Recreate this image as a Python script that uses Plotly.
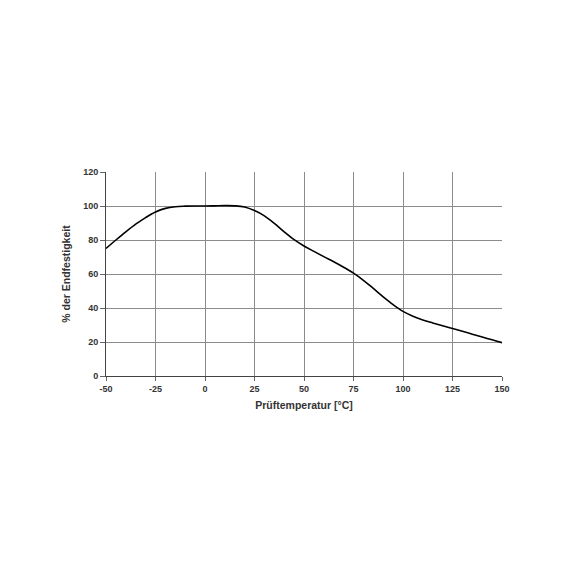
import plotly.graph_objects as go

# Prüftemperatur [°C] vs. % der Endfestigkeit
temp_c = [-50, -45, -40, -35, -30, -25, -20, -15, -10, -5, 0, 5, 10, 15, 20,
          25, 30, 35, 40, 45, 50, 55, 60, 65, 70, 75, 80, 85, 90, 95, 100,
          105, 110, 115, 120, 125, 130, 135, 140, 145, 150]
strength_pct = [75, 80, 84.8, 89.3, 93.2, 96.5, 98.6, 99.6, 99.9, 100, 100, 100.1, 100.2, 100.1, 99.4,
                97.3, 94.2, 89.8, 84.8, 80.2, 76.5, 73.3, 70.2, 67.2, 64, 60.5, 56.3, 51.5, 46.6, 42, 38,
                35.2, 33, 31.2, 29.5, 27.9, 26.3, 24.6, 22.9, 21.3, 19.6]

x_ticks = [-50, -25, 0, 25, 50, 75, 100, 125, 150]
x_labels = ["-50", "-25", "0", "25", "50", "75", "100", "125", "150"]
y_ticks = [0, 20, 40, 60, 80, 100, 120]
y_labels = ["0", "20", "40", "60", "80", "100", "120"]

fig = go.Figure()
fig.add_trace(go.Scatter(x=temp_c, y=strength_pct, mode="lines",
                         line=dict(color="black", width=1.6, shape="spline", smoothing=1),
                         hoverinfo="skip", showlegend=False))

tick_font = dict(family="Liberation Sans, Arial", size=9, color="#333333")
title_font = dict(family="Liberation Sans, Arial", size=10.5, color="#333333")
fig.update_xaxes(range=[-50, 150], tickvals=x_ticks, ticktext=["<b>%s</b>" % t for t in x_labels],
                 showgrid=True, gridcolor="#8c8c8c", gridwidth=1,
                 showline=True, linecolor="#444444", linewidth=1, ticks="outside", ticklen=4,
                 tickcolor="#666666", tickfont=tick_font, zeroline=False,
                 title=dict(text="<b>Prüftemperatur [°C]</b>", font=title_font, standoff=8))
fig.update_yaxes(range=[0, 120], tickvals=y_ticks, ticktext=["<b>%s</b>" % t for t in y_labels],
                 showgrid=True, gridcolor="#8c8c8c", gridwidth=1,
                 showline=True, linecolor="#444444", linewidth=1, ticks="outside", ticklen=5,
                 tickcolor="#666666", tickfont=tick_font, zeroline=False,
                 title=dict(text="<b>% der Endfestigkeit</b>", font=title_font, standoff=10))
# body margin of the page is 8px, so shift everything up/left by 8
fig.update_layout(width=576, height=576, plot_bgcolor="white", paper_bgcolor="white",
                  margin=dict(l=98, r=82, t=164, b=208))

fig.write_html("out.html")
